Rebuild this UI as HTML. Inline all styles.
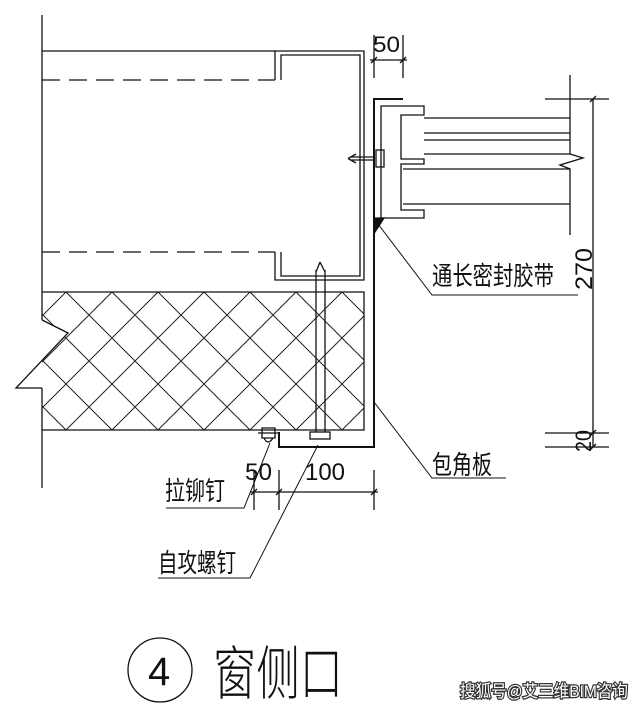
<!DOCTYPE html>
<html><head><meta charset="utf-8"><style>
html,body{margin:0;padding:0;background:#fff;}
svg{display:block;}
text{font-family:"Liberation Sans","Noto Sans CJK SC",sans-serif;fill:#111;}
</style></head><body>
<svg width="640" height="709" viewBox="0 0 640 709" xmlns="http://www.w3.org/2000/svg">
<defs>
<pattern id="h" width="46" height="46" patternUnits="userSpaceOnUse" x="20" y="292">
<path d="M0 0L46 46M46 0L0 46M-23 23L0 46M23 -23L69 23M0 0L-23 23M46 46L69 23" stroke="#222" stroke-width="1" fill="none"/>
</pattern>
<clipPath id="pc"><path d="M42 292H364V430H42V388H16L68 333L42 320Z"/></clipPath>
</defs>
<g stroke="#111" fill="none" stroke-width="1.3">
<line x1="42" y1="15" x2="42" y2="320"/>
<line x1="42" y1="388" x2="42" y2="488"/>
<line x1="42" y1="51" x2="275" y2="51"/>
<line x1="42" y1="80" x2="275" y2="80" stroke-dasharray="18,9"/>
<line x1="42" y1="252" x2="275" y2="252" stroke-dasharray="18,9"/>
<path d="M275 80V51H364V280H275V252"/>
<path d="M281 80V55H360V276H281V252"/>
<rect x="42" y="292" width="322" height="138" fill="url(#h)" stroke="none" clip-path="url(#pc)"/>
<path d="M42 292H364V430H42"/>
<path d="M42 320L68 333L16 388H42"/>
<path d="M403 99H374V447H279V432" stroke-width="2"/>
<path d="M424 106H381V218H424V210H401V164H424V159H401V115H424Z"/>
<line x1="424" y1="118" x2="570" y2="118"/>
<line x1="424" y1="133" x2="570" y2="133"/>
<line x1="424" y1="140" x2="570" y2="140"/>
<line x1="424" y1="154" x2="570" y2="154"/>
<line x1="403" y1="169" x2="570" y2="169"/>
<line x1="403" y1="204" x2="570" y2="204"/>
<path d="M570 75V154L583 158L560 165L570 169V235"/>
<path d="M375 218L384 218L375 232Z" fill="#111"/>
<path d="M350 157H374M350 160H374M348 158.5L356 154M348 158.5L356 163"/>
<rect x="376" y="150" width="8" height="17"/>
<path d="M316 270V432M325 270V432M320 262L316 272M320 262L325 272"/>
<rect x="310" y="432" width="20" height="7"/>
<path d="M258 433H280M262 428H275V438H262Z"/>
<path d="M264 438Q268 446 273 438"/>
<path d="M374 35V78M403 35V78M370 60H407M371 63L377 57M400 63L406 57"/>
<path d="M593 99V447M545 99H609M545 433H609M545 447H609M590 102L596 96M590 436L596 430M590 450L596 444"/>
<path d="M254 470V510M279 470V510M374 470V510M250 492H378M251 495L257 489M276 495L282 489M371 495L377 489"/>
<path d="M378 224L432 295H578" stroke-width="1"/>
<path d="M374 402L432 478H506" stroke-width="1"/>
<path d="M270 443L244 508H166" stroke-width="1"/>
<path d="M318 445L250 578H158" stroke-width="1"/>
<circle cx="160" cy="670" r="32"/>
</g>
<text x="373" y="52" font-size="22" textLength="27" lengthAdjust="spacingAndGlyphs">50</text>
<text x="432" y="285" font-size="26" textLength="122" lengthAdjust="spacingAndGlyphs">通长密封胶带</text>
<text transform="translate(592,290) rotate(-90)" font-size="24" textLength="42" lengthAdjust="spacingAndGlyphs">270</text>
<text transform="translate(591,452) rotate(-90)" font-size="22" textLength="22" lengthAdjust="spacingAndGlyphs">20</text>
<text x="432" y="474" font-size="26" textLength="60" lengthAdjust="spacingAndGlyphs">包角板</text>
<text x="245" y="480" font-size="24" textLength="27" lengthAdjust="spacingAndGlyphs">50</text>
<text x="305" y="480" font-size="24" textLength="40" lengthAdjust="spacingAndGlyphs">100</text>
<text x="165" y="500" font-size="26" textLength="60" lengthAdjust="spacingAndGlyphs">拉铆钉</text>
<text x="158" y="572" font-size="26" textLength="78" lengthAdjust="spacingAndGlyphs">自攻螺钉</text>
<text x="148" y="685" font-size="40" style="font-weight:300">4</text>
<text x="213" y="694" font-size="58" textLength="130" lengthAdjust="spacingAndGlyphs" style="font-weight:300">窗侧口</text>
<text x="460" y="697" font-size="17" textLength="168" lengthAdjust="spacingAndGlyphs" style="fill:#fff;stroke:#333;stroke-width:2.5;paint-order:stroke">搜狐号@艾三维BIM咨询</text>
</svg>
</body></html>
